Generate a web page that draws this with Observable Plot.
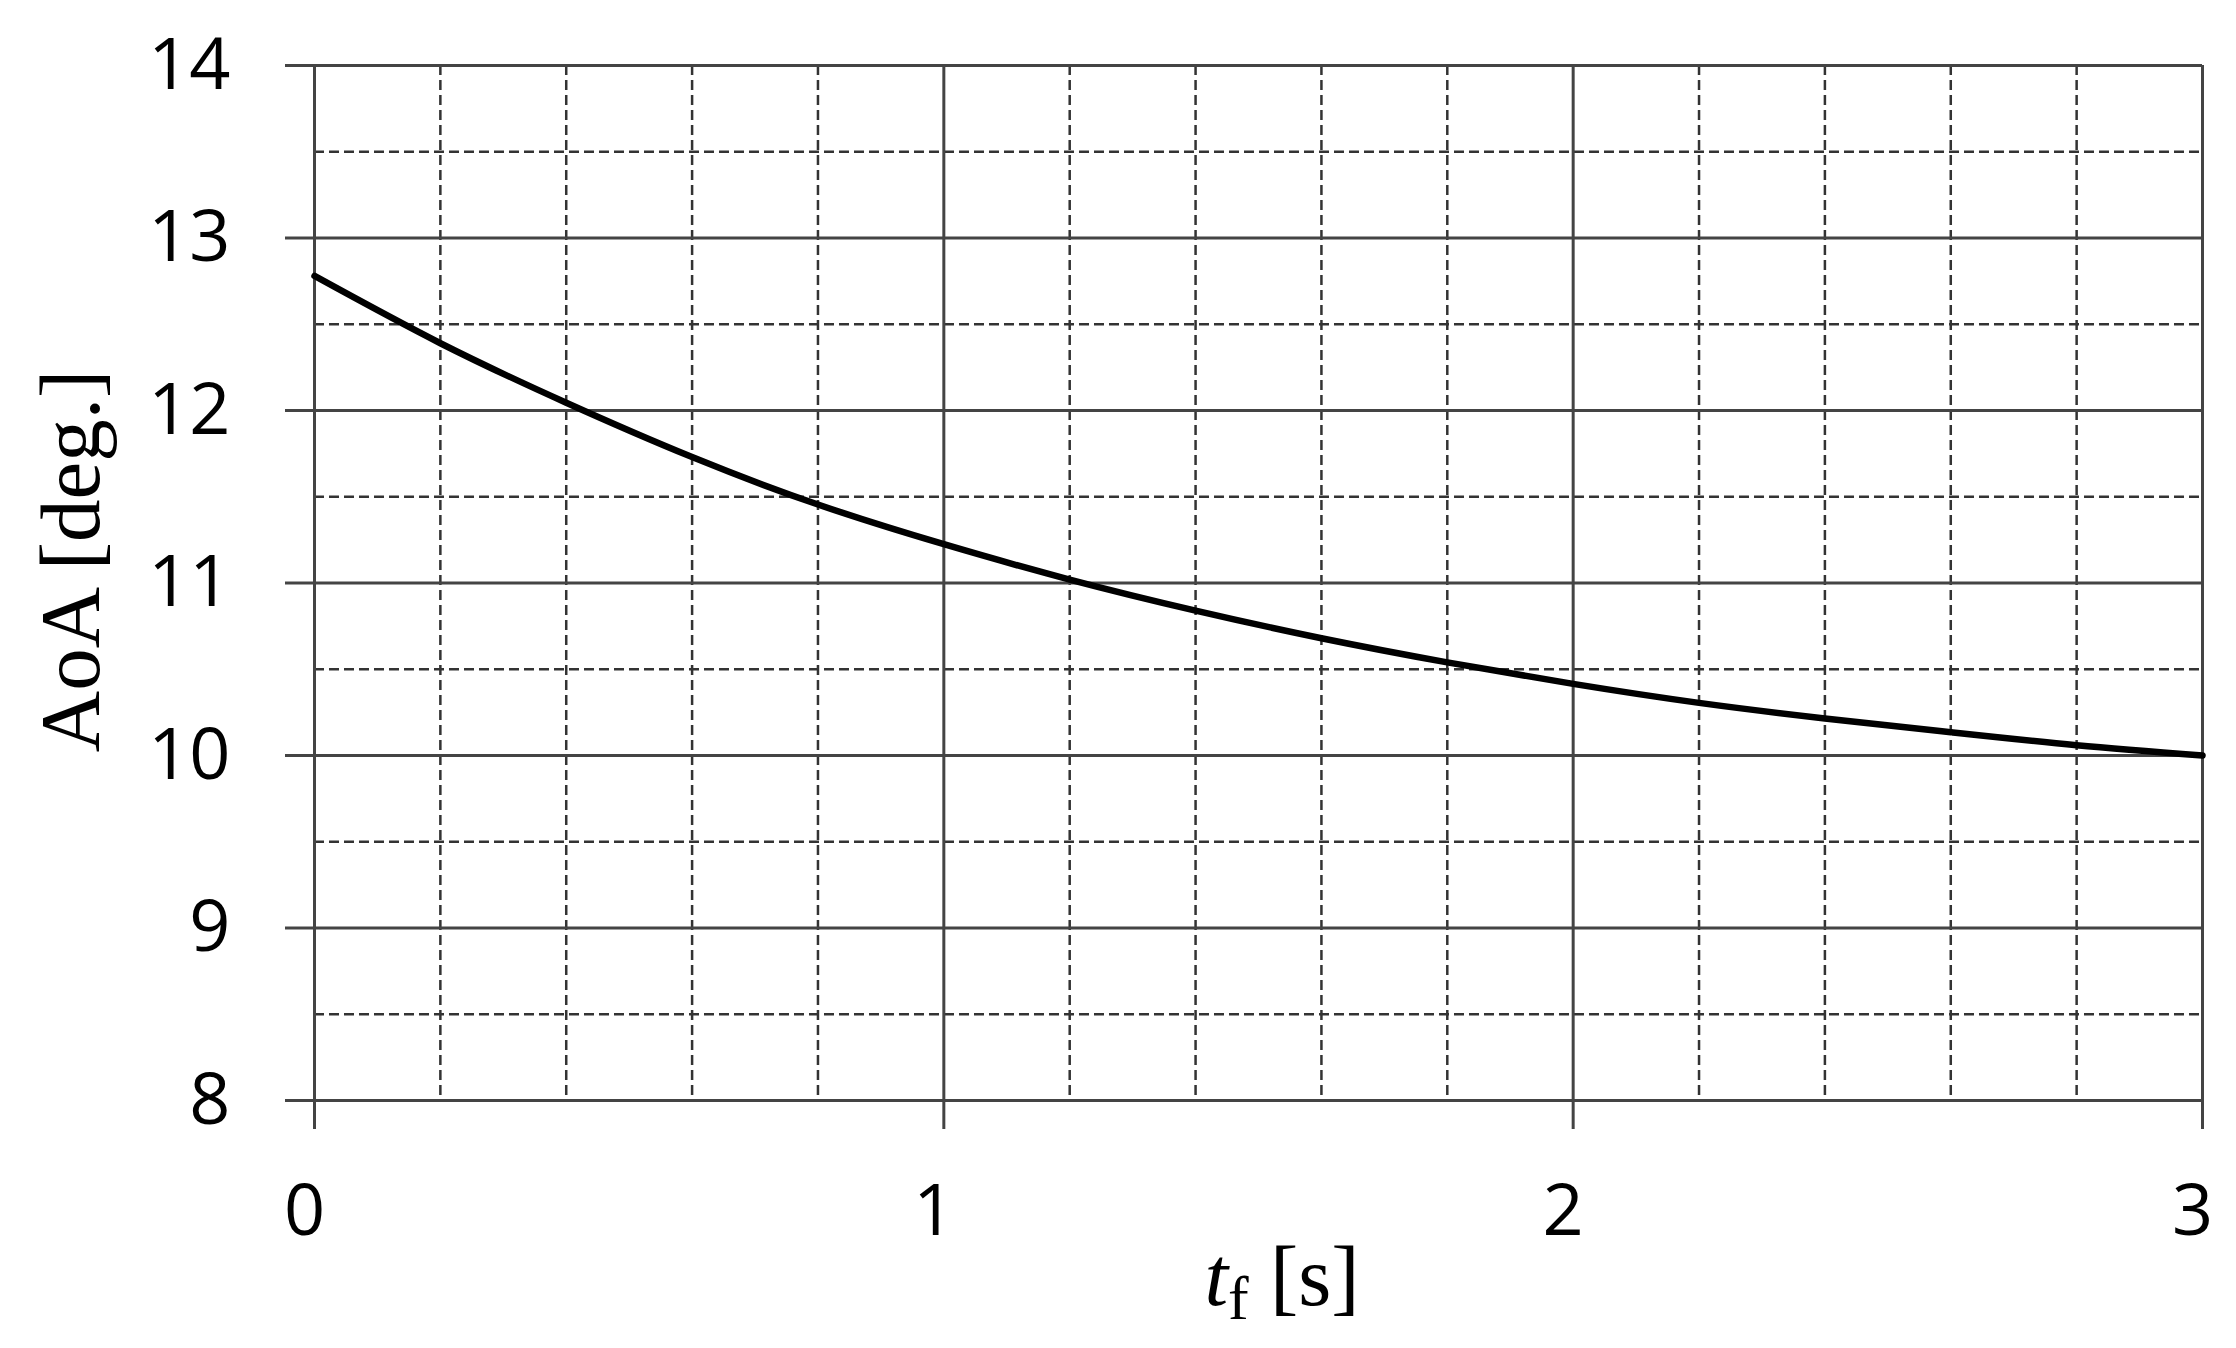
<!DOCTYPE html>
<html>
<head>
<meta charset="utf-8">
<script src="https://cdn.jsdelivr.net/npm/d3@7"></script>
<script src="https://cdn.jsdelivr.net/npm/@observablehq/plot@0.6"></script>
<style>
  html, body { margin: 0; padding: 0; background: #fff; }
</style>
</head>
<body>
<div id="chart"></div>
<script>
// ---- data ----
const tf = [0, 0.2, 0.4, 0.6, 0.8, 1.0, 1.2, 1.4, 1.6, 1.8, 2.0, 2.2, 2.4, 2.6, 2.8, 3.0];
const aoa = [12.78, 12.39, 12.045, 11.73, 11.455, 11.225, 11.02, 10.84, 10.68, 10.54, 10.415, 10.305, 10.215, 10.135, 10.06, 10.00];
const xMajor = [0, 1, 2, 3];
const xMinor = [0.2, 0.4, 0.6, 0.8, 1.2, 1.4, 1.6, 1.8, 2.2, 2.4, 2.6, 2.8];
const yMajor = [8, 9, 10, 11, 12, 13, 14];
const yMinor = [8.5, 9.5, 10.5, 11.5, 12.5, 13.5];
const yLabel = "AoA [deg.]";
const xLabelMain = "t";
const xLabelSub = "f";
const xLabelUnit = "[s]";

const data = tf.map((t, i) => ({t, a: aoa[i]}));

const W = 2236, H = 1348;
const mL = 314, mR = 34, mT = 65, mB = 248;
const gridColor = "#444";

const chart = Plot.plot({
  width: W,
  height: H,
  marginLeft: mL,
  marginRight: mR,
  marginTop: mT,
  marginBottom: mB,
  style: {fontFamily: "'Open Sans', sans-serif", fontSize: "72px", color: "#000", background: "#fff"},
  x: {domain: [0, 3]},
  y: {domain: [8, 14]},
  marks: [
    Plot.ruleX(xMinor, {stroke: "#333", strokeWidth: 2.5, strokeDasharray: "10,5"}),
    Plot.ruleY(yMinor, {stroke: "#333", strokeWidth: 2.5, strokeDasharray: "10,5"}),
    Plot.ruleX(xMajor, {stroke: gridColor, strokeWidth: 3}),
    Plot.ruleY(yMajor, {stroke: gridColor, strokeWidth: 3}),
    // x tick marks (aligned with gridlines)
    Plot.axisX(xMajor, {tickSize: 29, stroke: gridColor, strokeWidth: 3, label: null, tickFormat: () => ""}),
    // x tick labels (slightly left of their ticks, as in the original)
    Plot.axisX(xMajor, {tickSize: 0, tickPadding: 83, label: null, tickFormat: d => String(d), fill: "#000", dx: -10}),
    Plot.axisY(yMajor, {tickSize: 29, tickPadding: 55, stroke: gridColor, strokeWidth: 3, label: null, tickFormat: d => String(d), fill: "#000"}),
    Plot.line(data, {x: "t", y: "a", curve: "natural", stroke: "#000", strokeWidth: 6.5}),
    Plot.text([yLabel], {frameAnchor: "left", textAnchor: "middle", rotate: -90, dx: -243, dy: -22, fontFamily: "'Liberation Serif', serif", fontSize: 85, fill: "#000", text: d => d})
  ]
});

document.getElementById("chart").appendChild(chart);

// x-axis title with italic t and subscript f
const svg = d3.select(chart);
const cx = mL + (W - mL - mR) / 2 + 24;
const title = svg.append("text")
  .attr("x", cx)
  .attr("y", 1305)
  .attr("text-anchor", "middle")
  .attr("font-family", "'Liberation Serif', serif")
  .attr("font-size", 85)
  .attr("fill", "#000");
title.append("tspan").attr("font-style", "italic").text(xLabelMain);
title.append("tspan").attr("font-size", 62).attr("dy", 14).text(xLabelSub);
title.append("tspan").attr("dy", -14).text("\u00a0" + xLabelUnit);
</script>
</body>
</html>
